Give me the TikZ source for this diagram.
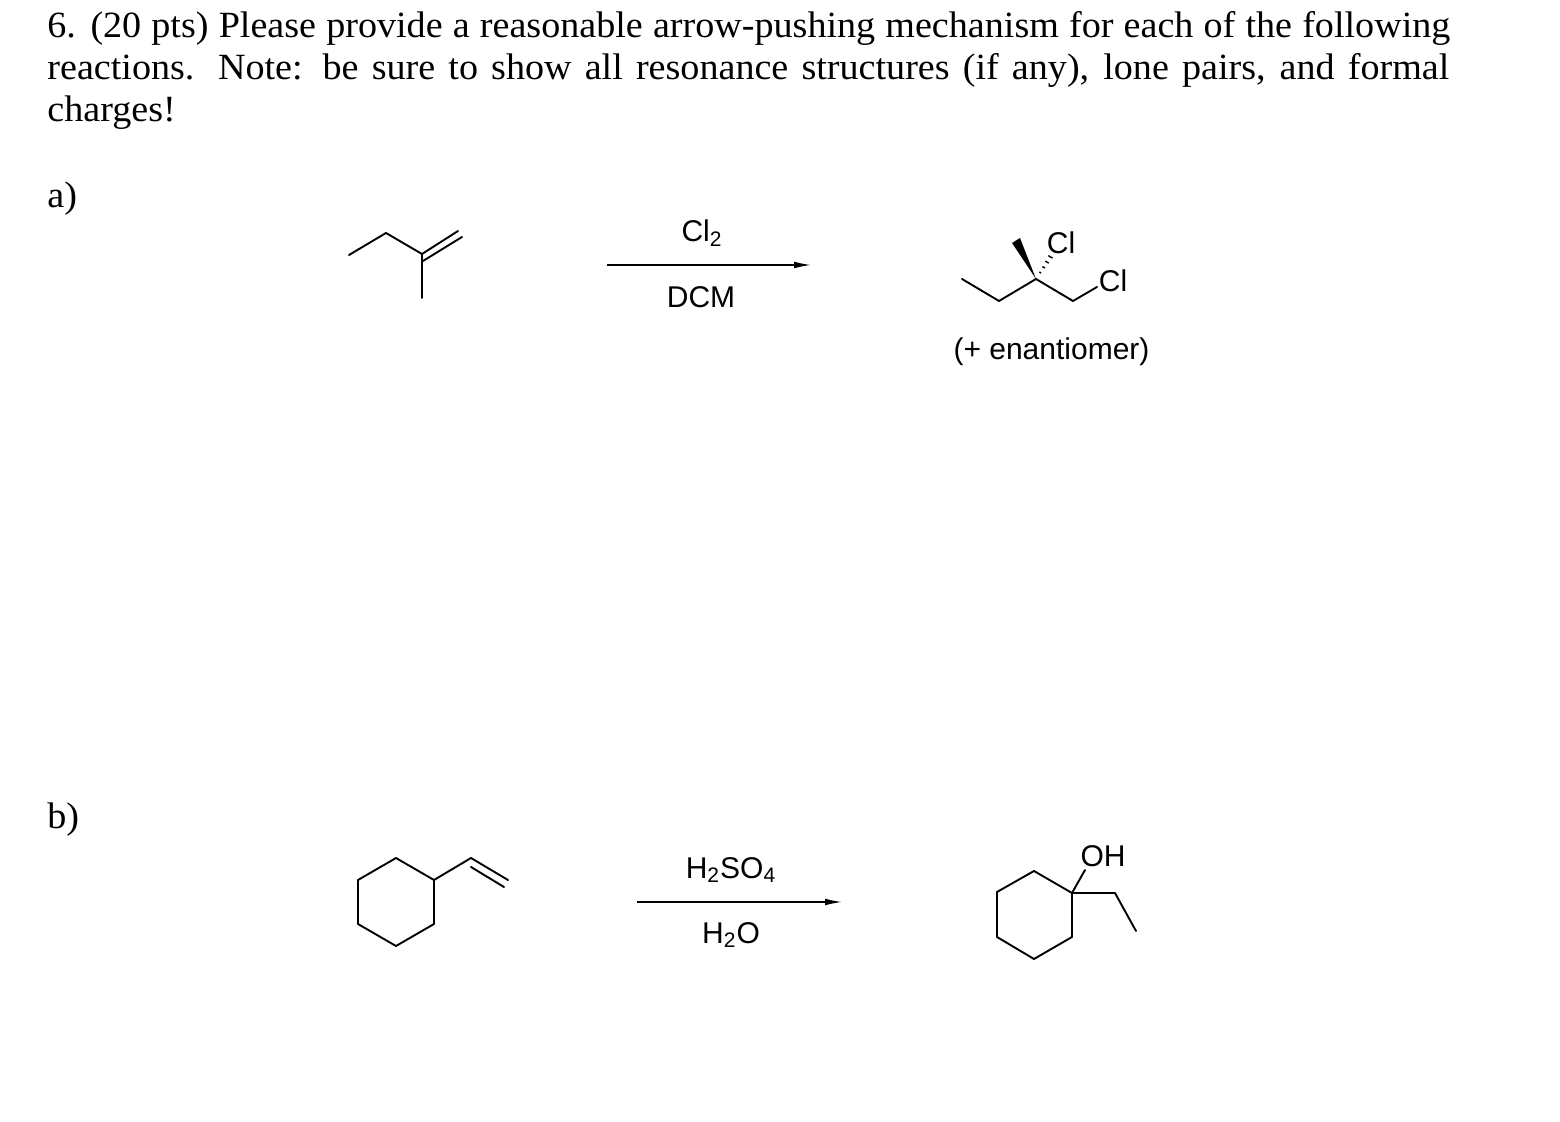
\documentclass[tikz,border=0pt]{standalone}
\usepackage{fontspec}
\setmainfont[FakeStretch=1.03]{Liberation Serif}
\newfontfamily\chemfont{Liberation Sans}
\usetikzlibrary{arrows.meta,calc}
\tikzset{
  x=0.5pt,y=-0.5pt,
  bond/.style={line width=0.95pt,line cap=round,line join=round,black},
  chem/.style={font=\chemfont\fontsize{15}{18}\selectfont,inner sep=0pt,text=black},
  head/.style={font=\fontsize{18.5}{22}\selectfont,inner sep=0pt,anchor=base west,text=black},
  rxn/.style={line width=0.7pt,-{Latex[length=8.5pt,width=3.4pt]}}
}
\begin{document}
\begin{tikzpicture}
\useasboundingbox (0,0) rectangle (1560,1122);
\node[head] (t1) at (47,38) {\makebox[701.5pt][s]{6. (20 pts) Please provide a reasonable arrow-pushing mechanism for each of the following}};
\node[head] (t2) at (47,80) {\makebox[701pt][s]{reactions. Note: be sure to show all resonance structures (if any), lone pairs, and formal}};
\node[head] (t3) at (47,122) {charges!};
\node[head] (la) at (47,208) {a)};
\node[head] (lb) at (47,829) {b)};
% reactant a
\coordinate (a1) at (349,255); \coordinate (a2) at (386,233); \coordinate (a3) at (422,254);
\coordinate (a4) at (458,231); \coordinate (a3b) at (423,261); \coordinate (a4b) at (462,237);
\coordinate (a5) at (422,298);
\draw[bond] (a1)--(a2)--(a3)--(a4);
\draw[bond] (a3b)--(a4b);
\draw[bond] (a3)--(a5);
% arrow a
\coordinate (ra1) at (607,265); \coordinate (ra2) at (811,265);
\draw[rxn] (ra1)--(ra2);
\node[chem] (cl2) at (702,233) {Cl\textsubscript{2}};
\node[chem] (dcm) at (701,297) {DCM};
% product a
\node[chem] (clt) at (1061,243) {Cl};
\node[chem] (clr) at (1113,281) {Cl};
\node[chem] (enan) at (1051.5,352) {(+ enantiomer)};
\coordinate (p1) at (962,279); \coordinate (p2) at (999,301); \coordinate (p3) at (1036,279);
\coordinate (p4) at (1073,301); \coordinate (p5) at (1097,287);
\coordinate (w1) at (1012,243); \coordinate (w2) at (1020,238);
\coordinate (hashend) at (1053,253);
\draw[bond] (p1)--(p2)--(p3)--(p4)--(p5);
\fill[black] (p3)--(w1)--(w2)--cycle;
\foreach \f/\w in {0.25/2,0.45/3,0.65/4,0.85/5}{
  \draw[line width=0.7pt] ($(p3)!\f!(hashend)$) ++(-\w*0.43,-\w*0.25) -- ++(\w*0.86,\w*0.5);
}
% reactant b
\coordinate (b1) at (396,858); \coordinate (b2) at (434,880); \coordinate (b3) at (434,924);
\coordinate (b4) at (396,946); \coordinate (b5) at (358,924); \coordinate (b6) at (358,880);
\coordinate (b7) at (471,858); \coordinate (b8) at (508,880);
\coordinate (b7b) at (471,867); \coordinate (b8b) at (504,887);
\draw[bond] (b1)--(b2)--(b3)--(b4)--(b5)--(b6)--cycle;
\draw[bond] (b2)--(b7)--(b8);
\draw[bond] (b7b)--(b8b);
% arrow b
\coordinate (rb1) at (637,902); \coordinate (rb2) at (842,902);
\draw[rxn] (rb1)--(rb2);
\node[chem] (h2so4) at (731,870) {H\textsubscript{2}SO\textsubscript{4}};
\node[chem] (h2o) at (731,935) {H\textsubscript{2}O};
% product b
\node[chem] (oh) at (1103,856) {OH};
\coordinate (c1) at (1034,871); \coordinate (c2) at (1072,893); \coordinate (c3) at (1072,937);
\coordinate (c4) at (1034,959); \coordinate (c5) at (997,937); \coordinate (c6) at (997,892);
\coordinate (c7) at (1115,893); \coordinate (c8) at (1136,931); \coordinate (c9) at (1085,870);
\draw[bond] (c1)--(c2)--(c3)--(c4)--(c5)--(c6)--cycle;
\draw[bond] (c2)--(c7)--(c8);
\draw[bond] (c2)--(c9);
\end{tikzpicture}
\end{document}
